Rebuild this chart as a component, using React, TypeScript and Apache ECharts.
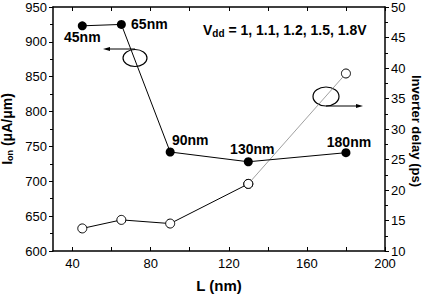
import React, { useEffect, useRef } from "react";
import * as echarts from "echarts";

const lengths = [45, 65, 90, 130, 180];
const ionValues = [923, 925, 742, 728, 741];
const delayValues = [13.7, 15.1, 14.5, 21.0, 39.1];
const nodeLabels = ["45nm", "65nm", "90nm", "130nm", "180nm"];
const xTickValues = [40, 60, 80, 100, 120, 140, 160, 180, 200];
const xLabelValues = [40, 80, 120, 160, 200];

const FONT = "'Liberation Sans', Arial, sans-serif";

export default function App() {
  const ref = useRef<HTMLDivElement>(null);
  useEffect(() => {
    if (!ref.current) return;
    const chart = echarts.init(ref.current, null, { renderer: "svg" });
    const labelOffsets: [number, number][] = [
      [0, 11],
      [28, 0],
      [20, -12],
      [4, -13],
      [3, -11],
    ];
    const ionData = lengths.map((x, i) => ({
      value: [x, ionValues[i]],
      label: {
        show: true,
        formatter: nodeLabels[i],
        position: "inside",
        offset: labelOffsets[i],
        align: "center",
        verticalAlign: "middle",
        fontFamily: FONT,
        fontWeight: "bold",
        fontSize: 14,
        color: "#000",
      },
    }));
    const delayMain = lengths.slice(0, 4).map((x, i) => [x, delayValues[i]]);
    const delayTail = lengths.slice(3).map((x, i) => [x, delayValues[i + 3]]);

    const axisLine = { lineStyle: { color: "#000", width: 1.5 } };
    const tickLabel = { color: "#000", fontSize: 13, fontFamily: FONT };
    const nameStyle = { color: "#000", fontSize: 13, fontWeight: "bold", fontFamily: FONT };

    chart.setOption({
      animation: false,
      backgroundColor: "#fff",
      grid: { left: 53, right: 41, top: 7, bottom: 43, containLabel: false, outerBoundsMode: "none" },
      xAxis: [
        {
          type: "value",
          min: 30,
          max: 200,
          position: "bottom",
          axisLine,
          axisTick: { inside: true, length: 4, customValues: xTickValues, lineStyle: { color: "#000", width: 1 } },
          axisLabel: { ...tickLabel, customValues: xLabelValues, margin: 6 },
          splitLine: { show: false },
          name: "L (nm)",
          nameLocation: "middle",
          nameGap: 27,
          nameTextStyle: { ...nameStyle, fontSize: 15 },
        },
        {
          type: "value",
          min: 30,
          max: 200,
          position: "top",
          axisLine,
          axisTick: { inside: true, length: 4, customValues: xTickValues, lineStyle: { color: "#000", width: 1 } },
          axisLabel: { show: false },
          splitLine: { show: false },
        },
      ],
      yAxis: [
        {
          type: "value",
          min: 600,
          max: 950,
          interval: 50,
          position: "left",
          axisLine: { show: true, ...axisLine },
          axisTick: { show: true, length: 4, lineStyle: { color: "#000", width: 1 } },
          minorTick: { show: true, splitNumber: 2, length: 3, lineStyle: { color: "#000", width: 1 } },
          axisLabel: { ...tickLabel, margin: 6 },
          splitLine: { show: false },
          name: "{b|I}{s|on}{b| (\u03bcA/\u03bcm)}",
          nameLocation: "middle",
          nameRotate: 90,
          nameGap: 33,
          nameTextStyle: {
            ...nameStyle,
            rich: {
              b: { ...nameStyle, fontSize: 14 },
              s: { ...nameStyle, fontSize: 9, padding: [6, 0, 0, 0] },
            },
          },
        },
        {
          type: "value",
          min: 10,
          max: 50,
          interval: 5,
          position: "right",
          axisLine: { show: true, ...axisLine },
          axisTick: { show: true, length: 4, lineStyle: { color: "#000", width: 1 } },
          minorTick: { show: true, splitNumber: 2, length: 3, lineStyle: { color: "#000", width: 1 } },
          axisLabel: { ...tickLabel, margin: 6 },
          splitLine: { show: false },
        },
      ],
      series: [
        {
          name: "Ion",
          type: "line",
          xAxisIndex: 0,
          yAxisIndex: 0,
          data: ionData,
          symbol: "circle",
          symbolSize: 9,
          itemStyle: { color: "#000" },
          lineStyle: { color: "#000", width: 1 },
          z: 5,
        },
        {
          name: "Delay",
          type: "line",
          xAxisIndex: 0,
          yAxisIndex: 1,
          data: delayMain,
          symbol: "circle",
          symbolSize: 9,
          itemStyle: { color: "#fff", borderColor: "#000", borderWidth: 1 },
          lineStyle: { color: "#000", width: 1 },
          z: 4,
        },
        {
          name: "DelayTail",
          type: "line",
          xAxisIndex: 0,
          yAxisIndex: 1,
          data: delayTail,
          symbol: "circle",
          symbolSize: 9,
          itemStyle: { color: "#fff", borderColor: "#000", borderWidth: 1 },
          lineStyle: { color: "#777", width: 0.7 },
          z: 3,
        },
      ],
      graphic: [
        {
          type: "text",
          x: 416,
          y: 131,
          rotation: -Math.PI / 2,
          style: {
            text: "Inverter delay (ps)",
            align: "center",
            verticalAlign: "middle",
            fontFamily: FONT,
            fontWeight: "bold",
            fontSize: 13,
            fill: "#000",
          },
        },
        {
          type: "text",
          x: 203,
          y: 30,
          style: {
            text: "{b|V}{s|dd}{b| = 1, 1.1, 1.2, 1.5, 1.8V}",
            verticalAlign: "middle",
            rich: {
              b: { fontFamily: FONT, fontWeight: "bold", fontSize: 14, fill: "#000" },
              s: { fontFamily: FONT, fontWeight: "bold", fontSize: 10, fill: "#000", padding: [7, 0, 0, 0] },
            },
          },
        },
        {
          type: "ellipse",
          shape: { cx: 135, cy: 58, rx: 12, ry: 8.5 },
          style: { fill: "none", stroke: "#000", lineWidth: 1.2 },
        },
        {
          type: "line",
          shape: { x1: 108, y1: 49, x2: 135, y2: 49 },
          style: { stroke: "#000", lineWidth: 1 },
        },
        {
          type: "polygon",
          shape: { points: [[103, 49], [110, 47], [110, 51]] },
          style: { fill: "#000" },
        },
        {
          type: "ellipse",
          shape: { cx: 326, cy: 96.5, rx: 13, ry: 9.5 },
          style: { fill: "none", stroke: "#000", lineWidth: 1.2 },
        },
        {
          type: "line",
          shape: { x1: 326, y1: 106, x2: 358, y2: 106 },
          style: { stroke: "#000", lineWidth: 1 },
        },
        {
          type: "polygon",
          shape: { points: [[363, 106], [356, 104], [356, 108]] },
          style: { fill: "#000" },
        },
      ],
    });
    return () => chart.dispose();
  }, []);
  return <div ref={ref} style={{ width: 426, height: 294, position: "absolute", left: 0, top: 0 }} />;
}
